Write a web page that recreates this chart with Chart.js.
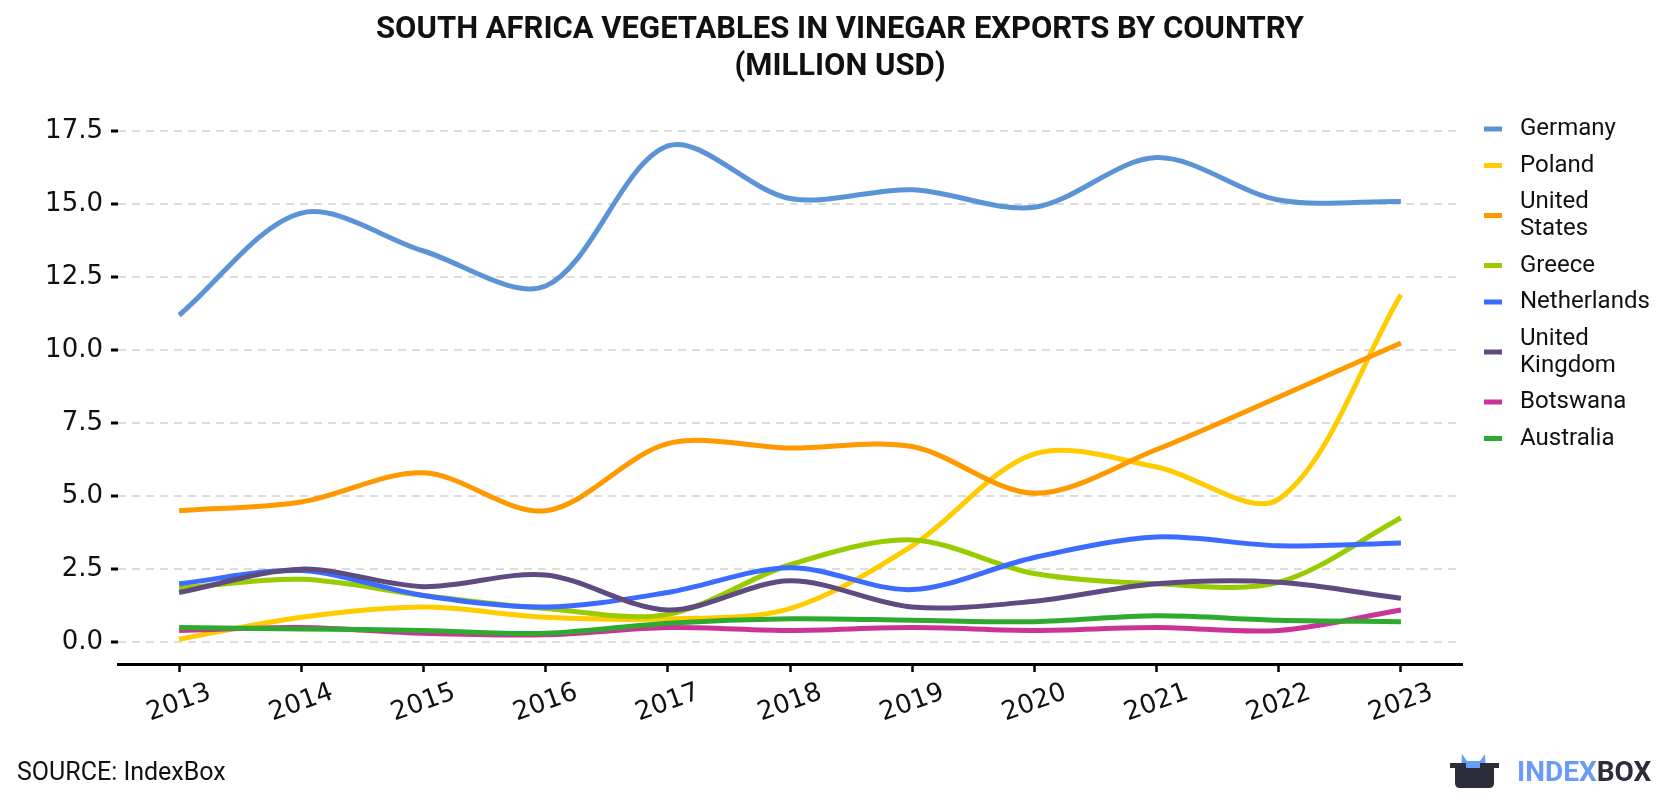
<!DOCTYPE html>
<html>
<head>
<meta charset="utf-8">
<script src="https://cdn.jsdelivr.net/npm/chart.js@4.4.1/dist/chart.umd.min.js"></script>
<style>
  html, body { margin: 0; padding: 0; background: #fff; }
  #wrap { width: 1680px; height: 800px; position: relative; }
</style>
</head>
<body>
<div id="wrap"><canvas id="exportsChart"></canvas></div>
<script>
const titleLines = ['SOUTH AFRICA VEGETABLES IN VINEGAR EXPORTS BY COUNTRY', '(MILLION USD)'];
const sourceText = 'SOURCE: IndexBox';

const years = ['2013', '2014', '2015', '2016', '2017', '2018', '2019', '2020', '2021', '2022', '2023'];
const yTicks = [0, 2.5, 5, 7.5, 10, 12.5, 15, 17.5];

const seriesNames = ['Germany', 'Poland', 'United\nStates', 'Greece', 'Netherlands', 'United\nKingdom', 'Botswana', 'Australia'];
const seriesColors = ['#5b93d6', '#ffcc00', '#ff9900', '#99cc00', '#3b6cff', '#5f4b80', '#cc3399', '#2eaa2e'];

const germany = [11.2, 14.7, 13.4, 12.2, 17.0, 15.2, 15.5, 14.9, 16.6, 15.15, 15.1];
const poland = [0.1, 0.85, 1.2, 0.85, 0.8, 1.15, 3.3, 6.45, 6.0, 4.9, 11.9];
const unitedStates = [4.5, 4.8, 5.8, 4.5, 6.8, 6.65, 6.7, 5.1, 6.6, 8.4, 10.25];
const greece = [1.85, 2.15, 1.6, 1.15, 0.95, 2.65, 3.5, 2.35, 2.0, 2.05, 4.25];
const netherlands = [2.0, 2.45, 1.6, 1.2, 1.7, 2.55, 1.8, 2.9, 3.6, 3.3, 3.4];
const unitedKingdom = [1.7, 2.5, 1.9, 2.3, 1.1, 2.1, 1.2, 1.4, 2.0, 2.05, 1.5];
const botswana = [0.4, 0.5, 0.3, 0.25, 0.5, 0.4, 0.5, 0.4, 0.5, 0.4, 1.1];
const australia = [0.5, 0.45, 0.4, 0.3, 0.65, 0.8, 0.75, 0.7, 0.9, 0.75, 0.7];

const seriesValues = [germany, poland, unitedStates, greece, netherlands, unitedKingdom, botswana, australia];

// title, legend, source and logo are painted straight on the canvas
const decor = {
    id: 'decor',
    afterDraw(chart) {
        const ctx = chart.ctx;
        ctx.save();

        ctx.fillStyle = '#111';
        ctx.font = 'bold 31px Roboto';
        ctx.textAlign = 'center';
        ctx.textBaseline = 'middle';
        titleLines.forEach((t, i) => ctx.fillText(t, 840, 30 + i * 37));

        // legend
        ctx.font = '24px Roboto';
        ctx.textAlign = 'left';
        let y = 129;
        chart.data.datasets.forEach((ds, i) => {
            const lines = seriesNames[i].split('\n');
            const mid = y + (lines.length - 1) * 27 / 2;
            ctx.strokeStyle = ds.borderColor;
            ctx.lineWidth = 5;
            ctx.beginPath();
            ctx.moveTo(1484, mid);
            ctx.lineTo(1502, mid);
            ctx.stroke();
            ctx.fillStyle = '#111';
            lines.forEach((l, j) => ctx.fillText(l, 1520, y + j * 27));
            y += 36.5 + (lines.length - 1) * 27;
        });

        // source
        ctx.font = '25px Roboto';
        ctx.fillStyle = '#111';
        ctx.fillText(sourceText, 17, 774);

        // logo icon
        ctx.fillStyle = '#6a9cf7';
        ctx.beginPath();
        ctx.moveTo(1461, 770);
        ctx.lineTo(1462, 754);
        ctx.lineTo(1467, 761);
        ctx.lineTo(1480, 761);
        ctx.lineTo(1485, 754);
        ctx.lineTo(1486, 770);
        ctx.closePath();
        ctx.fill();
        ctx.fillStyle = '#2b2d3a';
        ctx.beginPath();
        ctx.moveTo(1450, 763);
        ctx.lineTo(1499, 763);
        ctx.lineTo(1499, 768);
        ctx.lineTo(1494, 768);
        ctx.lineTo(1494, 783);
        ctx.quadraticCurveTo(1494, 788, 1489, 788);
        ctx.lineTo(1460, 788);
        ctx.quadraticCurveTo(1455, 788, 1455, 783);
        ctx.lineTo(1455, 768);
        ctx.lineTo(1450, 768);
        ctx.closePath();
        ctx.fill();
        ctx.fillStyle = '#6a9cf7';
        ctx.fillRect(1466, 763, 14, 5);

        ctx.font = 'bold 28px Roboto';
        ctx.fillStyle = '#6a9cf7';
        ctx.fillText('INDEX', 1517, 774);
        const w = ctx.measureText('INDEX').width;
        ctx.fillStyle = '#2b2d3a';
        ctx.fillText('BOX', 1517 + w, 774);

        ctx.restore();
    }
};

const ctxExports = document.getElementById('exportsChart').getContext('2d');

new Chart(ctxExports, {
    type: 'line',
    data: {
        labels: years,
        datasets: seriesValues.map((vals, i) => ({
            label: seriesNames[i].replace('\n', ' '),
            data: vals,
            borderColor: seriesColors[i],
            backgroundColor: seriesColors[i],
            borderWidth: 5,
            pointRadius: 0,
            tension: 0.32,
            fill: false,
            order: seriesValues.length - i
        }))
    },
    options: {
        responsive: true,
        maintainAspectRatio: false,
        animation: false,
        layout: {
            padding: { top: 108, right: 218, left: 0, bottom: 0 }
        },
        scales: {
            x: {
                offset: true,
                afterFit(scale) { scale.height = 136; },
                grid: {
                    display: true,
                    drawOnChartArea: false,
                    drawTicks: true,
                    tickLength: 8,
                    tickWidth: 2.5,
                    tickColor: '#000'
                },
                border: { display: true, color: '#000', width: 3 },
                ticks: {
                    color: '#111',
                    font: { family: 'DejaVu Sans', size: 26 },
                    minRotation: 20,
                    maxRotation: 20,
                    labelOffset: 31,
                    padding: 5
                }
            },
            y: {
                min: -0.75,
                max: 18.3,
                afterFit(scale) { scale.width = 118; },
                afterBuildTicks(scale) { scale.ticks = yTicks.map(v => ({ value: v })); },
                grid: {
                    color: '#dddddd',
                    lineWidth: 2,
                    drawTicks: true,
                    tickLength: 7,
                    tickWidth: 3,
                    tickColor: '#000',
                    tickBorderDash: []
                },
                border: { display: false, dash: [8, 6] },
                ticks: {
                    color: '#111',
                    font: { family: 'DejaVu Sans', size: 26 },
                    padding: 8,
                    callback: v => v.toFixed(1)
                }
            }
        },
        plugins: {
            legend: { display: false },
            title: { display: false },
            tooltip: { enabled: false }
        }
    },
    plugins: [decor]
});
</script>
</body>
</html>
